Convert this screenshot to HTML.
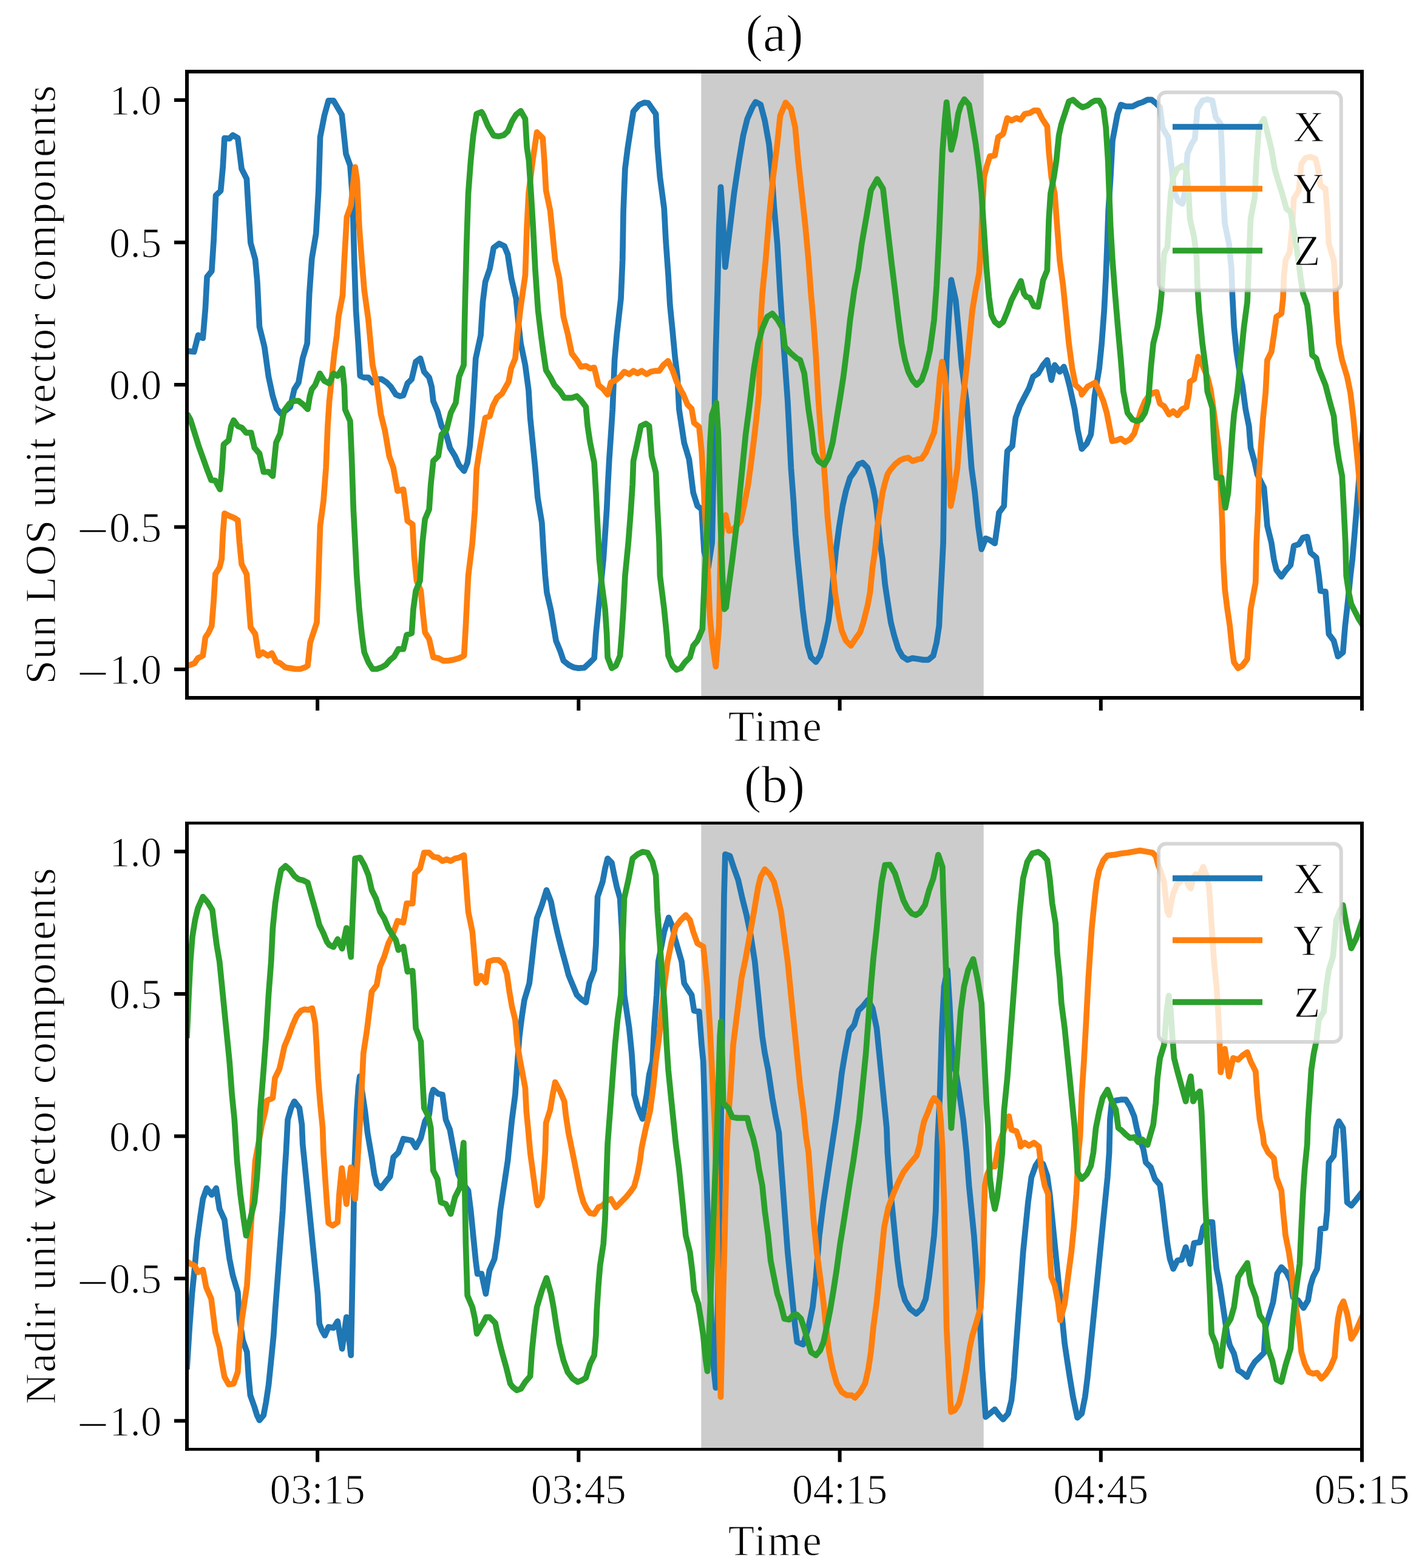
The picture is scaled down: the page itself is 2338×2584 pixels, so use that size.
<!DOCTYPE html>
<html lang="en"><head><meta charset="utf-8"><title>Sun LOS and Nadir unit vector components</title>
<style>html,body{margin:0;padding:0;background:#fff}svg{display:block}text{font-family:"Liberation Serif",serif;fill:#000;stroke:#fff;stroke-width:1.2px;stroke-linejoin:round}</style></head><body>
<svg width="2338" height="2584" viewBox="0 0 2338 2584">
<rect width="2338" height="2584" fill="#fff"/>
<defs>
<clipPath id="c0"><rect x="308.0" y="118.0" width="1936.0" height="1032.0"/></clipPath>
<clipPath id="c1"><rect x="308.0" y="1356.4" width="1936.0" height="1032.0"/></clipPath>
</defs>
<rect x="1155.3" y="118.0" width="465.4000000000001" height="1032.0" fill="#cccccc"/>
<polyline clip-path="url(#c0)" points="308.2,578.3 319.7,579.7 326.6,552.3 334.3,557.2 338.4,508.4 341.1,456.4 348.8,446.8 352.1,396.1 355.6,322 363.6,314.4 367.2,275.4 369.9,227.5 378.1,228.3 383.6,222.8 391.8,227.5 398.1,278.2 406.4,294.6 409.1,341.2 412.9,400.2 420.6,427.6 423.9,464.6 427.5,538.6 435.7,571.5 442.5,620.8 449.4,652.9 455.7,673.5 463.1,681.7 471.3,676.2 478.2,670.7 485,641.4 491.9,630.4 498.7,590.7 506.1,566 509.7,483.8 513.8,426.2 520.7,385.1 524.8,313.8 527.5,226.1 534.4,190.5 541.2,165.8 549.5,165.8 563.2,189.1 570,253.5 576.9,272.7 581,327.5 583.7,428.9 586.5,511.2 590.6,571.5 593.3,619.5 600.2,622.2 607,622.2 613.9,630.4 622.1,624.9 628.9,624.9 637.2,630.4 644,637.3 652.2,650.2 659.1,652.9 664.6,651.5 671.4,631.8 678.3,624.9 685.1,596.2 692.5,590.7 698.8,612.6 707.1,622.2 711.2,637.3 713.9,661.1 720.8,677.6 727.6,702.2 734.5,713.2 741.3,737.9 749.6,751.6 756.4,766.7 764.6,776.2 770.1,762.5 774.2,735.1 777,702.2 779.7,661.1 783.8,590.7 792.1,552.3 795.5,497.5 799.6,464.6 807,442.7 813.3,408.4 822.3,401.5 831.1,405.6 836.6,419.4 842.6,459.1 850.3,492 853.6,527.6 858,566 865.4,601.6 870.9,642.8 873.6,688.5 877.7,729.6 881.8,770.8 885.9,820.1 892.8,861.2 895.5,907.8 898.3,948.9 901,976.4 907.9,1006.5 912,1031.2 916.1,1055.9 922.9,1072.3 928.4,1088.8 936.7,1095.6 944.9,1099.7 953.1,1101.1 962.7,1100.3 970.9,1092.9 979.1,1084.6 981.9,1044.9 986,1003.8 990.1,962.7 994.2,921.5 997,880.4 999.7,839.3 1001.6,798.2 1003.8,757.1 1006.6,715.9 1009.3,674.8 1012.6,593.4 1016.2,552.3 1023,492 1025.7,428.9 1027.1,346.7 1029.9,278.2 1034,245.3 1039.5,209.6 1043.6,183.6 1053.2,172.6 1061.4,169.1 1068.2,169.9 1080.6,187.7 1083.3,242.5 1087.4,291.9 1094.3,344 1097,396.1 1101.1,453.6 1103.9,503 1108,544.1 1112.1,587.9 1116.2,620.8 1118.9,674.8 1127.2,729.6 1135.4,757.1 1142.2,811.9 1149.1,833.8 1156,839.3 1160.1,907.8 1166.9,935.2 1173.2,894.1 1176.5,729.6 1177.9,647.4 1179.3,579.7 1182,483.8 1184.7,374.1 1187.5,308.3 1190.2,346.7 1194.9,439.9 1201.2,387.8 1209.4,319.3 1217.6,264.5 1224.5,223.4 1231.3,195.9 1239.6,176.8 1245,168 1253.3,172.6 1260.1,198.7 1267,237.1 1271.1,278.2 1275.2,338.5 1280.7,401.5 1285.5,483.8 1291,566 1297.8,661.1 1300.6,715.9 1303.3,770.8 1307.4,825.6 1310.7,880.4 1314.3,921.5 1318.4,962.7 1322.5,1003.8 1326.6,1036.7 1330.7,1064.1 1336.2,1083.3 1344.4,1090.9 1351.3,1080.5 1358.1,1055.9 1365,1023 1369.1,990.1 1373.2,948.9 1377.3,907.8 1382.8,866.7 1388.3,833.8 1393.8,809.1 1400.6,787.2 1407.5,777.6 1414.3,765.3 1421.2,762.5 1429.4,770.8 1433.5,784.5 1439,806.4 1443.1,828.3 1445.8,853 1450,894.1 1454.1,921.5 1458.2,962.7 1462.3,990.1 1467.8,1025.7 1473.3,1047.6 1480.1,1069.6 1487,1081.9 1495.2,1087.4 1503.4,1084.6 1513,1086 1521.2,1087.4 1529.5,1087.4 1537.7,1080.5 1543.2,1058.6 1547.3,1031.2 1549.2,990.1 1551.4,948.9 1554.1,894.1 1554.9,839.3 1555.8,757.1 1556.9,688.5 1559.6,593.4 1563.2,524.9 1567.3,461.3 1574.7,494.7 1580.2,552.3 1584.3,601.6 1592.5,661.1 1596.6,715.9 1600.7,770.8 1606.2,811.9 1611.7,866.7 1617.2,905.1 1624,887.3 1630.9,890 1639.1,895.5 1643.2,866.7 1646,844.8 1654.2,833.8 1656.9,784.5 1659.7,743.4 1667.9,735.1 1670.6,710.5 1673.4,688.5 1680.2,669.3 1687.1,655.6 1695.3,640 1702.1,620.8 1710.4,615.4 1718.6,601.6 1725.4,593.4 1732.3,626.3 1737.8,601.6 1746,612.6 1752.9,604.4 1758.3,620.8 1762.5,637.3 1770.7,674.8 1775.5,707.7 1782.3,739.8 1790.6,731 1797.4,715.9 1800.7,685.8 1803.4,652.9 1811.1,607.1 1815.2,566 1819.3,511.2 1822.1,456.4 1824.3,401.5 1826.2,346.7 1829.8,291.9 1833,231.6 1837.2,209.6 1841.3,187.7 1846.8,172.6 1855,175.4 1865.9,175.4 1875.5,170.7 1882.4,168.5 1890.6,164.4 1897.5,164.4 1904.3,169.9 1911.2,176.8 1915.3,209.6 1918,215.1 1924.9,226.1 1930.4,275.4 1934.5,316.6 1941.3,331.6 1948.2,335.7 1952.3,316.6 1956.4,253.5 1963.3,237.1 1968.7,228.8 1972.9,179.5 1981.1,165.8 1989.3,163.6 1997.5,165.8 2003,193.2 2011.2,204.2 2014,264.5 2015.3,319.3 2018.1,368.6 2024.9,401.5 2029,442.7 2030.4,483.8 2033.2,538.6 2037.3,579.7 2041.4,607.1 2046.9,634.5 2052.3,674.8 2057.8,702.2 2060.6,737.9 2067.4,762.5 2071.5,781.7 2082.5,803.7 2085.2,833.8 2088,866.7 2094.8,894.1 2098.9,921.5 2103.1,939.4 2111.3,950.3 2118.1,940.7 2126.4,931.1 2131.8,899.6 2140.1,896.9 2146.9,885.9 2153.8,884.5 2159.3,910.6 2168.8,918.8 2173,948.9 2175.7,973.6 2183.9,975 2186.7,1009.3 2189.4,1044.9 2197.6,1055.9 2204.5,1081.9 2212.7,1075 2216.3,1031.2 2220.9,990.1 2225,948.9 2228.3,921.5 2231.6,883.2 2236,828.3 2240.1,777.6 2244,730.5 2247,694" fill="none" stroke="#1f77b4" stroke-width="9.7" stroke-linejoin="round" stroke-linecap="butt"/>
<polyline clip-path="url(#c0)" points="308.2,1097 313.7,1095.6 320.6,1092.9 326,1084.6 334.3,1080.5 338.4,1050.4 343.9,1042.1 348.8,1031.2 352.1,990.1 354.8,946.2 361.7,935.2 365.2,921.5 367.2,880.4 369.9,846.2 378.1,850.3 385,853 391.8,857.1 394.6,894.1 398.1,929.8 406.4,946.2 409.6,990.1 412.9,1033.9 420.6,1044.9 426.1,1080.5 432.9,1075 441.2,1080.5 448,1076.4 454.9,1090.1 461.7,1092.9 470,1099.7 478.2,1101.1 486.4,1102.5 494.6,1102.5 502.9,1099.7 507,1097 511.1,1058.6 516.6,1042.1 522,1025.7 524.8,948.9 527.5,866.7 533,825.6 537.1,770.8 539.9,702.2 542.6,661.1 550.8,582.5 554.9,552.3 557.7,522.1 564.5,486.5 567.3,428.9 571.4,357.7 578.2,338.5 582.3,300.1 585.1,275.4 588.4,297.4 591.9,374.1 596.1,428.9 600.2,478.3 607,527.6 613.9,601.6 620.7,631.8 627.6,683 634.4,710.5 641.3,751.6 648.1,770.8 655,809.1 664.6,806.4 671.4,858.5 679.7,864 682.4,916.1 686.5,957.2 693.4,973.6 696.1,1003.8 700.2,1042.1 707.1,1053.1 713.9,1083.3 722.1,1084.6 730.4,1088.8 738.6,1088.8 746.8,1087.4 756.4,1084.6 764.6,1080.5 767.4,1031.2 771.5,948.9 778.3,894.1 782.5,839.3 785.2,773.5 790.7,737.9 795.5,710.5 799.6,688.5 807,685.8 811.9,669.3 818.8,655.6 827,648.8 831.1,641.4 838,629.1 842.1,607.1 848.9,590.7 852.5,552.3 857.2,511.2 861.8,478.3 865.4,453.6 868.1,374.1 870.9,319.3 877.7,264.5 884.6,217.9 894.2,227.5 896.9,264.5 899.6,313.8 906.5,346.7 910.6,387.8 914.7,428.9 921.6,459.1 925.7,497.5 928.4,522.1 935.3,549.6 942.1,582.5 950.4,593.4 957.2,604.4 965.4,603 972.3,607.1 979.1,605.8 986,634.5 994.2,641.4 1001.1,650.2 1006.6,630.4 1014.8,626.3 1021.6,620.8 1028.5,612.6 1036.7,616.7 1043.6,611.2 1050.4,615.4 1057.3,611.2 1065.5,616.7 1072.3,612.6 1079.2,611.2 1086.1,611.2 1092.9,601.6 1100.6,594.8 1108,609.9 1114.8,629.1 1121.7,642.8 1125.8,650.2 1132.7,666.6 1139.5,673.5 1143.6,696.8 1151.8,703.6 1156,743.4 1158.7,790 1161.4,839.3 1165.5,921.5 1169.7,1017.5 1173.8,1058.6 1179.3,1098.3 1184.7,1031.2 1186.1,962.7 1187.5,894.1 1191.6,853 1195.7,848.9 1201.2,874.9 1206.7,873.6 1213.5,866.7 1220.4,858.5 1225.9,833.8 1232.7,798.2 1238.2,757.1 1242.3,724.2 1246.4,688.5 1250.5,647.4 1253.3,527.6 1256,483.8 1261.5,428.9 1268.3,346.7 1273.8,291.9 1280.7,237.1 1285.5,190.5 1294.5,169.1 1303.3,179.5 1310.2,209.6 1315.1,264.5 1321.1,319.3 1327.1,374.1 1332.1,428.9 1336.2,483.8 1340.3,530.4 1344.4,587.9 1348.5,661.1 1352.6,715.9 1356.8,757.1 1360.9,811.9 1363.6,853 1367.7,894.1 1371.8,935.2 1375.9,976.4 1381.4,1012 1386.9,1039.4 1393.8,1055.9 1402,1064.1 1410.2,1051.7 1417.1,1042.1 1422.5,1025.7 1429.4,998.3 1433.5,976.4 1437.6,935.2 1441.7,907.8 1445.8,866.7 1450,839.3 1454.1,811.9 1458.2,795.4 1462.3,781.7 1466.4,774.9 1474.6,765.3 1482.9,758.4 1489.7,755.7 1496.6,754.3 1503.4,759.8 1511.6,757.1 1518.5,755.7 1525.3,746.1 1532.2,729.6 1539,713.2 1542.6,688.5 1546.4,647.4 1548.6,620.8 1552.2,596.2 1556.9,620.8 1559.1,647.4 1562.3,729.6 1566.5,833.8 1571.9,806.4 1577.4,770.8 1581.5,715.9 1585.6,669.3 1593.9,593.4 1598,552.3 1602.1,511.2 1607.6,478.3 1613.1,450.9 1615.8,415.2 1618.5,346.7 1621.3,291.9 1625.4,275.4 1630.9,257.6 1639.1,256.2 1644.6,226.1 1652.8,220.6 1659.7,194.6 1666.5,198.7 1674.7,194.6 1681.6,197.3 1688.4,187.7 1696.7,186.3 1703.5,182.2 1710.4,182.2 1717.2,195.9 1725.4,208.3 1728.2,250.8 1732.3,291.9 1737.8,319.3 1741.9,374.1 1746,428.9 1751.5,470.1 1757,524.9 1761.1,566 1766.6,607.1 1772.1,634.5 1781,642.8 1782.3,650.2 1791.9,637.3 1804.3,630.4 1811.1,644.4 1818,661.1 1823.5,680.3 1828.9,707.7 1832.5,726.9 1839.9,725.5 1846.8,722.8 1853.6,728.3 1861.8,724.2 1868.7,714.6 1874.2,696.8 1879.6,677.6 1886.5,661.1 1893.4,651.5 1900.2,647.4 1905.7,646 1911.2,665.2 1918,669.3 1926.2,683 1933.1,677.6 1940,684.4 1946.8,674.8 1955,670.7 1959.1,647.4 1960.5,629.1 1967.4,624.9 1974.2,587.9 1981.1,601.6 1989.3,620.8 1994.8,642.8 1997.5,661.1 2003,702.2 2008.5,743.4 2011.2,798.2 2014,866.7 2015.3,921.5 2018.1,970.9 2022.2,1003.8 2026.3,1031.2 2030.4,1072.3 2033.2,1091.5 2040,1101.1 2046.9,1097 2055.1,1086 2057.8,1044.9 2060.6,1003.8 2064.7,981.8 2068.8,959.9 2070.2,894.1 2072.9,839.3 2074.3,784.5 2077,743.4 2081.1,688.5 2085.2,647.4 2088,593.4 2094.8,579.7 2098.9,552.3 2103.1,522.1 2111.3,516.7 2114,492 2115.4,456.4 2118.1,428.9 2125,415.2 2129.1,374.1 2131.8,327.5 2140.1,313.8 2144.2,270 2151,260.4 2159.3,258.4 2167.5,261.7 2171.6,278.2 2175.7,305.6 2183.9,311.1 2186.7,346.7 2189.4,401.5 2197.6,428.9 2200.4,470.1 2201.7,511.2 2205.9,566 2211.3,593.4 2219.6,620.8 2225,647.4 2230,689.4 2233.3,724.2 2236.8,759 2239.3,787.2 2241.8,814.4 2244,839.3 2247,872.2" fill="none" stroke="#ff7f0e" stroke-width="9.7" stroke-linejoin="round" stroke-linecap="butt"/>
<polyline clip-path="url(#c0)" points="308.2,681.7 313.7,691.3 320.6,713.2 327.4,735.1 334.3,754.3 341.1,773.5 348,791.3 354.8,792.1 362.5,806.4 365.8,773.5 368.5,732.4 376.8,725.5 380.9,702.2 385,692.6 391.8,702.2 398.7,705 405.5,713.2 413.8,713.2 419.2,737.9 427.5,747.5 434.3,777.6 442.5,777.6 449.4,784.5 452.1,757.1 454.9,729.6 461.7,714.6 465.8,688.5 468.6,676.2 476.8,665.2 485,660.6 491.9,660.6 500.1,667.1 507,674.3 510.5,652.9 513.8,641.4 519.3,634.5 527,615.4 534.4,627.7 542.6,631.8 549.5,615.4 556.3,619.5 564,607.1 567.3,637.3 568.6,674.8 576.9,694 579.6,757.1 582.3,839.3 585.1,894.1 587.8,948.9 591.9,1003.8 596.1,1044.9 600.2,1075 607,1091.5 613.9,1102.5 620.7,1102.5 628.9,1099.7 635.8,1095.6 642.7,1087.4 649.5,1081.9 656.4,1069.6 664.6,1069.6 670.1,1046.3 678.3,1043.5 681,1003.8 685.1,973.6 692,957.2 696.1,894.1 700.2,855.7 707.1,839.3 709.8,798.2 713.9,759.8 722.1,751.6 727.6,715.9 735.9,707.7 742.7,680.3 750.9,663.9 756.4,620.8 764.1,601.6 766,511.2 768.8,401.5 771.5,319.3 775.6,264.5 779.7,223.4 785.2,187.7 793.4,184.4 796.9,190.5 803.7,206.9 813.3,223.4 821.5,224.7 829.7,222.8 836.6,216.5 843.5,200.1 850.3,189.1 858,182.8 865.4,195.9 868.1,242.5 871.4,264.5 875,319.3 878.3,374.1 881.8,442.7 884.6,483.8 886.5,511.2 891.4,552.3 895.5,582.5 899.6,609.9 907.9,623.6 913.4,634.5 922.9,645.1 929.8,655.6 942.1,655.6 950.4,652.9 957.2,659.7 965.4,670.7 968.2,702.2 972.3,729.6 979.1,762.5 981.9,811.9 984.6,866.7 987.4,921.5 991.5,962.7 997,1003.8 999.7,1044.9 1001.1,1083.3 1007.9,1101.1 1014.8,1097 1021.6,1080.5 1024.4,1044.9 1027.1,1003.8 1029.9,948.9 1035.3,894.1 1039.5,839.3 1042.2,798.2 1043.6,759.8 1049,735.1 1055.9,702.2 1064.1,698.1 1069.6,702.2 1073.7,751.6 1080.6,779 1083.3,839.3 1086.1,894.1 1087.4,948.9 1094.3,1003.8 1098.4,1044.9 1101.1,1080.5 1108,1097 1114.8,1103.8 1121.7,1101.1 1128.5,1091.5 1136.8,1083.3 1142.2,1064.1 1149.1,1055.9 1157.3,1036.7 1159.2,990.1 1161.4,942.1 1163.6,899.6 1165.5,863.1 1168.3,784.5 1169.9,731.6 1172.9,684.1 1176.5,673.5 1180.1,663.9 1183.4,715.9 1185.3,784.5 1187.5,866.7 1190.2,948.9 1193.5,1003.8 1196.2,1001 1201.2,962.7 1206.7,921.5 1213.5,866.7 1219,811.9 1224.5,757.1 1228.6,715.9 1234.1,674.8 1242.3,607.1 1249.2,566 1256,541.3 1264.2,522.1 1272.5,516.7 1280.7,526.3 1289.6,541.3 1293.2,571.5 1301.9,581.1 1312.9,590.7 1318.4,593.4 1325.2,615.4 1332.1,674.8 1337.6,710.5 1341.7,746.1 1348.5,759.8 1358.1,766.1 1365,754.3 1371.8,729.6 1378.7,688.5 1384.2,655.6 1389.6,620.8 1396.5,566 1400.6,527.6 1407.5,478.3 1414.3,442.7 1419.8,401.5 1428,354.9 1434.9,313.8 1445.3,295.2 1454.9,311.1 1459.6,352.2 1463.7,387.8 1469.1,434.4 1474.6,478.3 1480.1,524.9 1485.6,566 1491.1,593.4 1496.6,612.6 1503.4,626.3 1510.3,634.5 1518.5,626.3 1525.3,607.1 1532.2,577 1539,527.6 1543.2,470.1 1547.3,387.8 1550,319.3 1552.8,250.8 1556.9,195.9 1559.6,168.5 1563.7,209.6 1567.3,246.7 1573.3,223.4 1578.8,187.7 1582.9,174 1588.9,163.6 1596.6,172.6 1600.7,195.9 1607.6,237.1 1613.1,278.2 1617.2,319.3 1619.9,360.4 1622.7,401.5 1625.4,442.7 1629.5,489.3 1633.6,519.4 1639.1,530.4 1646,535.9 1652.8,530.4 1659.7,513.9 1666.5,494.7 1674.7,478.3 1682.1,463.2 1687.1,483.8 1691.2,489.3 1696.7,490.6 1703.5,504.3 1710.4,505.7 1715.9,478.3 1718.6,461.8 1725.4,445.4 1726.8,401.5 1728.2,360.4 1730.9,319.3 1736.4,291.9 1740.5,264.5 1744.6,223.4 1748.8,204.2 1757,179.5 1761.1,167.2 1767.9,164.4 1776.9,172.6 1783.7,176.8 1791.9,174 1798.8,168.5 1804.3,165.8 1811.1,165.8 1818,178.1 1822.1,209.6 1825.6,264.5 1827.6,319.3 1829.8,374.1 1833,428.9 1837.2,483.8 1841.8,538.6 1846.8,593.4 1850.9,645.1 1857.7,680.3 1865.9,691.3 1872.8,694 1879.6,691.3 1886.5,680.3 1892,661.1 1896.1,607.1 1900.2,566 1907.1,538.6 1911.2,511.2 1913.9,483.8 1915.3,456.4 1918,418 1923.5,407 1926.2,360.4 1929,319.3 1933.1,291.9 1940,278.2 1948.2,273.2 1955,279.6 1958.6,319.3 1960.5,360.4 1967.4,390.6 1971.5,423.5 1972.9,470.1 1975.6,511.2 1981.1,566 1986.6,607.1 1989.3,645.1 1997.5,672.1 2000.3,729.6 2004.4,787.2 2012.6,787.2 2015.3,811.9 2018.9,836.6 2023.6,811.9 2027.7,757.1 2030.4,715.9 2033.2,683 2038.6,647.4 2044.1,593.4 2049.6,538.6 2055.1,497.5 2057.8,428.9 2060.6,360.4 2067.4,324.8 2070.2,264.5 2074.3,209.6 2082.5,195.9 2088,217.9 2094.8,245.3 2100.3,278.2 2105.8,297.4 2112.7,319.3 2119.5,344 2126.4,349.5 2131.8,379.6 2137.3,415.2 2142.8,456.4 2146.9,483.8 2153.8,503 2157.9,538.6 2162,585.2 2168.8,590.7 2173,607.1 2178.4,620.8 2183.9,634.5 2190.8,661.1 2197.6,685.8 2201.7,729.6 2205.9,757.1 2211.3,784.5 2214.1,839.3 2216.8,894.1 2218.2,948.9 2222.3,976.4 2226.4,995.5 2233.3,1009.3 2238.8,1020.2 2244,1028.4 2247,1033.9" fill="none" stroke="#2ca02c" stroke-width="9.7" stroke-linejoin="round" stroke-linecap="butt"/>
<rect x="1909.0" y="152.2" width="300.6999999999998" height="326.3" rx="12" ry="12" fill="#fff" fill-opacity="0.8" stroke="#ccc" stroke-opacity="0.8" stroke-width="6"/>
<line x1="1932" x2="2080" y1="209" y2="209" stroke="#1f77b4" stroke-width="9.6"/>
<text x="2130.5" y="233.1" font-size="71" text-anchor="start">X</text>
<line x1="1932" x2="2080" y1="311" y2="311" stroke="#ff7f0e" stroke-width="9.6"/>
<text x="2130.5" y="335.1" font-size="71" text-anchor="start">Y</text>
<line x1="1932" x2="2080" y1="413" y2="413" stroke="#2ca02c" stroke-width="9.6"/>
<text x="2132" y="437.1" font-size="71" text-anchor="start">Z</text>
<path d="M308.0 115 V1153 M2244.0 115 V1153" fill="none" stroke="#000" stroke-width="6"/>
<path d="M305.0 118.0 H2247.0 M305.0 1150.0 H2247.0" fill="none" stroke="#000" stroke-width="6"/>
<line x1="287" x2="308" y1="164.9" y2="164.9" stroke="#000" stroke-width="6"/>
<text x="266.3" y="189.2" font-size="69" text-anchor="end">1.0</text>
<line x1="287" x2="308" y1="399.5" y2="399.5" stroke="#000" stroke-width="6"/>
<text x="266.3" y="423.8" font-size="69" text-anchor="end">0.5</text>
<line x1="287" x2="308" y1="634" y2="634" stroke="#000" stroke-width="6"/>
<text x="266.3" y="658.3" font-size="69" text-anchor="end">0.0</text>
<line x1="287" x2="308" y1="868.5" y2="868.5" stroke="#000" stroke-width="6"/>
<text x="266.3" y="892.8" font-size="69" text-anchor="end"><tspan textLength="53" lengthAdjust="spacingAndGlyphs" dy="5.5" stroke-width="0.5">−</tspan><tspan dx="0.3" dy="-5.5">0.5</tspan></text>
<line x1="287" x2="308" y1="1103.1" y2="1103.1" stroke="#000" stroke-width="6"/>
<text x="266.3" y="1127.4" font-size="69" text-anchor="end"><tspan textLength="53" lengthAdjust="spacingAndGlyphs" dy="5.5" stroke-width="0.5">−</tspan><tspan dx="0.3" dy="-5.5">1.0</tspan></text>
<line x1="523.1" x2="523.1" y1="1150.0" y2="1171" stroke="#000" stroke-width="6"/>
<line x1="953.3" x2="953.3" y1="1150.0" y2="1171" stroke="#000" stroke-width="6"/>
<line x1="1383.6" x2="1383.6" y1="1150.0" y2="1171" stroke="#000" stroke-width="6"/>
<line x1="1813.8" x2="1813.8" y1="1150.0" y2="1171" stroke="#000" stroke-width="6"/>
<line x1="2244" x2="2244" y1="1150.0" y2="1171" stroke="#000" stroke-width="6"/>
<text x="1276.7" y="1221.4" font-size="71" text-anchor="middle" textLength="154" lengthAdjust="spacing">Time</text>
<text x="1276" y="83.7" font-size="86" text-anchor="middle">(a)</text>
<text transform="translate(90.6 634) rotate(-90)" font-size="71" text-anchor="middle" textLength="987" lengthAdjust="spacing">Sun LOS unit vector components</text>
<rect x="1155.3" y="1356.4" width="465.4000000000001" height="1032.0" fill="#cccccc"/>
<polyline clip-path="url(#c1)" points="307.9,2256.8 312.3,2186.9 316.4,2132.1 320.6,2091 324.7,2044.4 330.2,2003.3 334.3,1975.9 340.6,1958.1 348.8,1969 356.2,1958.1 361.7,1992.3 369.9,2010.1 374,2044.4 378.1,2074.6 383.6,2102 391.8,2129.4 394.6,2173.2 400.1,2208.9 406.9,2228.1 409.6,2269.2 412.4,2299.3 419.2,2318.5 423.4,2332.2 427.5,2340.5 434.3,2332.2 438.4,2310.3 442.5,2282.9 446.7,2241.8 450.8,2200.7 453.5,2159.5 457.6,2104.7 461.7,2049.9 465.8,1995.1 468.6,1940.2 471.3,1899.1 474.1,1845.1 479.6,1825.9 485,1815 493.3,1825.9 497.4,1853.4 498.7,1885.4 502.9,1926.5 507,1967.6 511.1,2008.8 515.2,2049.9 519.3,2091 523.4,2132.1 526.2,2181.5 530.3,2192.4 535.2,2200.7 541.2,2186.9 549.5,2188.3 556.3,2177.4 559.9,2200.7 563.7,2222.6 570.8,2170.5 578.2,2233.5 580.2,2132.1 582.3,2022.5 584,1926.5 587.8,1831.4 590.6,1790.3 592.8,1773.9 597.4,1804 601.5,1831.4 605.6,1867.1 612.5,1907.3 616.6,1934.8 620.7,1951.2 627.6,1958.1 635.8,1947.1 642.7,1938.9 648.1,1907.3 656.4,1899.1 664.6,1876.7 678.3,1879.4 685.1,1890.9 693.4,1875.3 700.2,1847.9 707.1,1836.9 711.2,1804 713.9,1795.8 722.1,1802.6 729,1804 734.5,1845.1 741.3,1861.6 748.2,1899.1 755,1934.8 763.3,1951.2 771.5,1962.2 775.6,1995.1 779.7,2036.2 783.8,2077.3 786.6,2099.2 793.4,2099.2 800.4,2132.1 806.4,2093.7 814.7,2074.6 820.2,2036.2 824.3,1995.1 828.4,1967.6 832.5,1940.2 836.6,1912.8 839.3,1885.4 843.5,1845.1 848.9,1804 851.7,1762.9 855.8,1708.1 859.9,1675.2 864,1647.8 872.2,1620.3 876.3,1584.7 880.5,1546.3 884.6,1513.4 892.8,1491.5 900.5,1466.8 907.9,1486 912,1508 918.8,1538.1 925.7,1565.5 932.5,1590.2 936.7,1606.6 943.5,1623.1 950.4,1639.5 957.2,1646.4 965.4,1651.9 970.9,1620.3 979.1,1598.4 981.9,1557.3 984.6,1477.8 992.9,1453.1 997,1431.2 1001.1,1414.8 1007.9,1421.6 1012,1442.2 1016.2,1461.4 1021.6,1480.5 1024.4,1529.9 1026.3,1584.7 1028.5,1639.5 1032.6,1666.9 1036.7,1694.4 1040.8,1735.5 1043.6,1776.6 1044.9,1804 1050.4,1823.2 1054.5,1834.2 1058.6,1843.8 1065.5,1804 1069.6,1771.1 1075.1,1749.2 1077.8,1694.4 1081.9,1639.5 1084.7,1584.7 1090.2,1557.3 1094.3,1535.4 1101.7,1512.1 1108,1527.1 1112.1,1546.3 1117.6,1565.5 1123.1,1584.7 1127.2,1620.3 1134,1631.3 1139.5,1639.5 1143.6,1665.6 1151.8,1666.9 1156,1721.8 1158.7,1749.2 1161.4,1831.4 1165,1967.6 1168.3,2077.3 1172.4,2186.9 1176,2255.5 1179.3,2287 1182.5,2159.5 1184.7,2022.5 1187.5,1885.4 1190.2,1666.9 1193,1475.1 1194.9,1407.9 1202.6,1410.6 1209.4,1431.2 1216.3,1450.4 1223.1,1480.5 1230,1508 1236.8,1540.9 1243.7,1584.7 1247.8,1625.8 1251.9,1666.9 1256,1708.1 1260.1,1735.5 1265.6,1762.9 1272.5,1809.5 1277.9,1839.6 1283.4,1867.1 1285.5,1899.1 1289.6,1953.9 1293.7,2008.8 1297.8,2063.6 1301.9,2104.7 1306,2145.8 1310.2,2186.9 1313.4,2211.6 1323.3,2215.7 1332.1,2186.9 1338.9,2154.1 1344.4,2104.7 1349.9,2036.2 1356.8,1981.4 1365,1926.5 1377.3,1845.1 1382.8,1804 1386.9,1768.4 1392.4,1735.5 1399.2,1699.8 1407.5,1688.9 1414.3,1665.6 1422.5,1657.4 1430.2,1647.8 1437.6,1661.5 1444.5,1694.4 1448.6,1735.5 1452.7,1776.6 1456.8,1817.7 1460.9,1858.8 1462.3,1899.1 1466.4,1953.9 1470.5,1995.1 1474.6,2036.2 1478.7,2077.3 1484.2,2118.4 1491.1,2143.1 1499.3,2156.8 1509.7,2165 1518.5,2156.8 1525.3,2140.3 1530.8,2104.7 1534.9,2071.8 1539,2036.2 1541.8,1995.1 1543.2,1940.2 1544.5,1885.4 1548.6,1804 1551.9,1694.4 1555.5,1625.8 1561,1598.4 1564.5,1653.2 1567.8,1721.8 1571.1,1757.4 1574.7,1765.6 1580.2,1798.5 1587,1845.1 1592.5,1899.1 1596.6,1953.9 1600.7,1995.1 1604.8,2036.2 1608.9,2091 1613.1,2145.8 1615.8,2200.7 1618.5,2255.5 1621.3,2296.6 1624,2335 1630.9,2329.5 1639.1,2322.6 1646,2332.2 1652.8,2339.1 1661,2329.5 1666.5,2307.6 1670.6,2269.2 1673.4,2228.1 1677.5,2173.2 1681.6,2118.4 1685.7,2063.6 1689.8,2022.5 1693.9,1981.4 1699.4,1940.2 1706.3,1921 1711.7,1912.8 1718.6,1918.3 1725.4,1937.5 1729.6,1967.6 1733.7,2008.8 1737.8,2049.9 1741.9,2091 1746,2132.1 1750.1,2173.2 1754.2,2214.4 1758.3,2241.8 1762.5,2269.2 1767.9,2302.1 1775.1,2336.3 1782.3,2329.5 1787.8,2302.1 1791.9,2269.2 1796,2228.1 1800.2,2186.9 1804.3,2145.8 1808.4,2104.7 1812.5,2063.6 1816.6,2022.5 1820.7,1981.4 1824.8,1940.2 1827.6,1899.1 1828.9,1845.1 1831.7,1817.7 1838.5,1813.6 1846.8,1812.2 1855,1812.2 1861.8,1823.2 1868.7,1839.6 1872.8,1858.8 1876.9,1875.3 1883.8,1893.6 1887.9,1915.6 1896.1,1923.8 1902.9,1943 1911.2,1952.6 1915.3,1981.4 1919.4,2017 1923.5,2049.9 1927.6,2074.6 1933.1,2091 1940,2077.3 1946.8,2075.9 1953.7,2055.4 1961.1,2082.8 1967.4,2048.5 1977,2047.1 1982.4,2022.5 1989.3,2014.2 1997.5,2014.2 2000.3,2049.9 2004.4,2091 2009.9,2118.4 2014,2145.8 2018.1,2173.2 2022.2,2200.7 2026.3,2217.1 2033.2,2230.8 2040,2258.2 2046.9,2262.3 2054.5,2269.2 2060.6,2255.5 2067.4,2244.5 2074.3,2237.7 2082.5,2229.4 2085.2,2186.9 2089.4,2173.2 2097.6,2145.8 2101.7,2118.4 2104.4,2099.2 2111.3,2088.3 2119.5,2096.5 2126.4,2110.2 2130.5,2137.6 2138.7,2143.1 2147.7,2155.4 2155.1,2143.1 2159.3,2118.4 2163.4,2104.7 2170.2,2091 2173,2063.6 2175.7,2025.2 2183.9,2023.8 2186.7,1995.1 2189.4,1915.6 2197.6,1904.6 2201.7,1858.8 2205.9,1847.9 2212.7,1858.8 2215.4,1899.1 2216.8,1926.5 2219.6,1981.4 2226.4,1986.8 2233.3,1978.6 2244,1964.9 2248.3,1959.4" fill="none" stroke="#1f77b4" stroke-width="9.7" stroke-linejoin="round" stroke-linecap="butt"/>
<polyline clip-path="url(#c1)" points="307.9,2078.7 313.7,2082.8 320.6,2085.5 326,2096.5 334.3,2092.4 339.7,2121.2 348,2140.3 352.1,2173.2 354.8,2195.2 361.7,2219.8 365.8,2247.3 369.9,2269.2 376.8,2281.5 385,2280.1 391.8,2261 394.6,2214.4 398.7,2173.2 402.8,2145.8 406.9,2118.4 409.6,2077.3 412.4,2036.2 415.1,1995.1 417.9,1953.9 420.6,1912.8 431.6,1853.4 437.1,1831.4 439.8,1813.6 449.4,1809.5 453,1776.6 460.4,1761.5 464.5,1743.7 468.6,1724.5 475.4,1708.1 482.3,1688.9 489.1,1673.8 496,1665.6 501.5,1663.4 508.3,1664.2 514.4,1661.5 519.3,1686.1 521.5,1721.8 524.2,1776.6 527.5,1817.7 531.6,1858.8 533,1899.1 535.7,1940.2 538.5,1981.4 541.2,2015.6 548.1,2019.7 556.3,2014.2 559,1967.6 563.2,1925.2 570.8,1984.1 578.2,1923.8 585.1,1975.9 589.2,1912.8 593.3,1845.1 596.1,1790.3 598.8,1735.5 604.3,1699.8 608.4,1666.9 612.5,1634.1 620.7,1623.1 626.2,1592.9 633.1,1576.5 639.9,1554.6 646.8,1540.9 655,1517.6 664.6,1520.3 670.1,1488.8 679.7,1488.8 683.8,1439.4 692,1431.2 698.8,1405.2 707.1,1405.2 713.9,1412 722.1,1413.4 729,1418.9 735.9,1416.1 742.7,1418.9 749.6,1414.8 756.4,1413.4 764.6,1409.3 767.4,1447.6 771.5,1502.5 778.3,1535.4 782.5,1584.7 785.2,1620.3 792.1,1608 800.4,1619 805.1,1584.7 813.3,1582 821.5,1582 829.7,1588.8 835.2,1605.3 839.3,1634.1 843.5,1658.7 848.9,1680.7 852.5,1721.8 857.2,1749.2 861.3,1771.1 865.4,1793 867.3,1831.4 870,1858.8 873.6,1899.1 879.1,1940.2 884.6,1981.4 885.9,1986.3 892.8,1973.1 895.5,1940.2 898.3,1899.1 899.6,1850.6 906.5,1828.7 910.6,1804 914.7,1783.4 922.9,1798.5 929.8,1815 932.5,1839.6 936.7,1867.1 944.9,1907.3 950.4,1934.8 955.8,1962.2 961.3,1981.4 966.8,1992.3 972.3,1999.2 979.1,2000.5 986,1989.6 992.9,1986.8 999.7,1978.6 1006.6,1975.9 1014.8,1989.6 1023,1981.4 1031.2,1973.1 1038.1,1964.9 1044.9,1955.3 1050.4,1934.8 1054.5,1912.8 1057.3,1890.9 1064.1,1858.8 1071,1831.4 1076.5,1790.3 1080.6,1749.2 1086.1,1708.1 1090.2,1666.9 1094.3,1625.8 1099.8,1584.7 1106.6,1551.8 1113.5,1527.1 1121.7,1516.2 1129.9,1508 1136.8,1516.2 1142.2,1535.4 1149.1,1554.6 1158.7,1560 1161.4,1584.7 1165.5,1625.8 1169.7,1694.4 1172.4,1749.2 1175.1,1804 1177.9,1858.8 1179.3,1912.8 1182,2049.9 1184.7,2186.9 1187.5,2302.1 1190.2,2186.9 1193,2077.3 1195.7,1967.6 1197.6,1885.4 1199.8,1845.1 1203.9,1790.3 1208,1721.8 1214.9,1666.9 1221.7,1612.1 1228.6,1579.2 1235.4,1540.9 1242.3,1502.5 1249.2,1461.4 1253.3,1444.9 1260.1,1432.6 1268.3,1440.8 1275.2,1453.1 1280.7,1475.1 1286.9,1502.5 1292.3,1543.6 1297.8,1584.7 1301.9,1625.8 1306,1666.9 1310.2,1708.1 1314.3,1749.2 1318.4,1790.3 1323.9,1831.4 1328,1872.5 1332.1,1899.1 1336.2,1953.9 1340.3,2008.8 1345.8,2063.6 1351.3,2104.7 1356.8,2145.8 1360.9,2186.9 1366.3,2228.1 1371.8,2255.5 1378.7,2280.1 1386.9,2293.9 1395.1,2299.3 1403.4,2299.3 1408.8,2303.4 1417.1,2293.9 1425.3,2280.1 1430.8,2255.5 1434.9,2228.1 1439,2186.9 1444.5,2145.8 1448.6,2104.7 1452.7,2063.6 1456.8,2022.5 1463.7,1989.6 1471.9,1967.6 1480.1,1948.5 1488.3,1932 1496.6,1921 1503.4,1912.8 1510.3,1904.6 1515.7,1885.4 1517.1,1872.5 1522.6,1847.9 1529.5,1831.4 1534.9,1816.3 1539,1809.5 1547.3,1819.1 1550,1845.1 1552.8,1892.7 1555.5,1981.4 1556.9,2049.9 1558.2,2118.4 1559.6,2186.9 1562.3,2241.8 1565.1,2296.6 1567,2326.8 1573.3,2324 1580.2,2313 1585.6,2291.1 1592.5,2255.5 1598,2219.8 1602.1,2200.7 1608.9,2178.7 1615.8,2154.1 1618.5,2104.7 1619.9,2049.9 1621.3,1995.1 1622.7,1953.9 1626.8,1934.8 1633.6,1921 1639.1,1922.4 1643.2,1899.1 1646,1885.4 1662.4,1839.6 1666.5,1861.6 1674.7,1864.3 1680.2,1879.4 1681.6,1889.5 1688.4,1883.2 1695.3,1888.2 1703.5,1883.2 1711.7,1889.5 1715.9,1926.5 1721.3,1953.9 1726.8,1967.6 1728.2,2022.5 1729.6,2063.6 1732.3,2104.7 1737.8,2118.4 1743.3,2145.8 1746.8,2176 1754.2,2148.6 1759.7,2104.7 1765.2,2063.6 1769.3,2022.5 1773.4,1967.6 1776.9,1899.1 1779.6,1872.5 1782.3,1804 1785.9,1749.2 1789.7,1680.7 1793.3,1612.1 1798.8,1529.9 1804.3,1475.1 1807,1453.1 1811.1,1433.9 1818,1417.5 1824.8,1409.8 1835.8,1408.7 1846.8,1406.5 1857.7,1405.2 1868.7,1403.2 1878.3,1401.6 1887.9,1403.2 1898.8,1405.2 1904.3,1410.6 1908.4,1425.7 1912.5,1436.7 1918,1453.1 1920.8,1480.5 1923.5,1502.5 1926.2,1508 1929,1491.5 1933.1,1472.3 1938.6,1458.6 1945.4,1451.8 1953.7,1446.3 1957.8,1458.6 1961.9,1464.1 1966,1447.6 1970.1,1440.8 1975.6,1443.5 1982.4,1428.5 1987.9,1442.2 1992,1461.4 1994.8,1502.5 1997.5,1543.6 2000.3,1584.7 2004.4,1625.8 2007.1,1666.9 2009,1702.6 2010.1,1735.5 2011.2,1767 2018.1,1728.6 2024.9,1773.9 2031.8,1743.7 2040,1746.4 2046.9,1739.6 2055.1,1734.1 2060.6,1749.2 2068.8,1765.6 2071.5,1804 2075.6,1845.1 2081.1,1872.5 2082.5,1885.4 2089.4,1899.1 2098.9,1908.7 2103.1,1940.2 2111.3,1962.2 2114,1995.1 2118.1,2036.2 2123.6,2063.6 2127.7,2091 2131.8,2132.1 2136,2159.5 2140.1,2186.9 2144.2,2228.1 2149.7,2247.3 2156.5,2261 2163.4,2263.7 2170.2,2262.3 2177.1,2271.9 2183.9,2265.1 2192.1,2252.7 2199,2236.3 2201.7,2200.7 2204.5,2173.2 2208.6,2154.1 2213.5,2144.5 2219.6,2165 2223.7,2186.9 2226.4,2206.1 2233.3,2195.2 2244,2170.5 2248.3,2160.9" fill="none" stroke="#ff7f0e" stroke-width="9.7" stroke-linejoin="round" stroke-linecap="butt"/>
<polyline clip-path="url(#c1)" points="307.9,1710.8 311,1639.5 313.7,1584.7 317,1543.6 321.4,1516.2 326,1497 334.3,1477.8 342.5,1487.4 349.9,1499.7 353.5,1529.9 357,1557.3 361.7,1584.7 365.8,1625.8 369.9,1666.9 374,1708.1 378.1,1749.2 382.2,1804 386.3,1845.1 390.5,1912.8 395.9,1967.6 401.4,2008.8 405.5,2036.2 412.4,2008.8 419.2,1981.4 423.4,1940.2 426.1,1899.1 428.8,1831.4 434.3,1762.9 438.4,1708.1 442.5,1639.5 446.7,1584.7 449.4,1529.9 453.5,1488.8 457.6,1461.4 463.1,1433.9 470.5,1427.1 478.2,1433.9 485,1443.5 491.9,1449 498.7,1450.4 507,1454.5 511.1,1469.6 516.6,1488.8 522,1508 526.2,1524.4 533,1538.1 538.5,1551.8 542.6,1557.3 549.5,1560.6 556.3,1547.7 563.7,1563.3 570.8,1529.3 578.2,1577 581.8,1491.5 585.1,1414.8 593.3,1413.4 600.2,1425.7 607,1442.2 612.5,1466.8 619.4,1480.5 626.2,1502.5 633.1,1513.4 639.9,1529.9 646.8,1540.9 652.2,1549.1 656.4,1565.5 664.6,1560 668.7,1584.7 671.4,1601.2 679.7,1599.8 682.4,1639.5 685.1,1694.4 693.4,1716.3 696.1,1776.6 698.8,1825.9 705.7,1839.6 709.8,1858.8 711.2,1885.4 713.9,1929.3 720.8,1943 726.3,1981.4 734.5,1984.1 742.7,2000.5 749.6,1973.1 757.8,1956.7 760.5,1912.8 763.8,1883.2 766,1967.6 767.4,2049.9 770.1,2134.9 778.3,2154.1 782.5,2173.2 785.7,2197.9 793.4,2184.2 795.5,2181.5 801,2170.5 806.4,2170.5 816,2180.1 821.5,2206.1 827,2228.1 833.9,2252.7 840.7,2280.1 844.8,2285.6 851.7,2291.1 858.5,2288.4 865.4,2277.4 873.6,2267.8 876.3,2228.1 880.5,2186.9 884.6,2154.1 892.8,2126.6 900.5,2106.1 907.9,2132.1 912,2154.1 916.1,2181.5 921.6,2214.4 928.4,2241.8 935.3,2261 943.5,2271.9 951.7,2277.4 958.6,2274.7 965.4,2270.6 972.3,2247.3 979.1,2233.5 981.9,2200.7 983.3,2159.5 986,2118.4 988.7,2085.5 994.2,2049.9 997,2008.8 998.3,1967.6 999.7,1926.5 1001.1,1885.4 1005.2,1831.4 1009.3,1776.6 1013.4,1721.8 1017.5,1680.7 1023,1639.5 1025.7,1557.3 1028.5,1480.5 1035.3,1450.4 1042.2,1414.8 1050.4,1407.9 1058.6,1403.8 1066.9,1405.2 1075.1,1420.2 1080.6,1442.2 1083.3,1502.5 1087.4,1557.3 1091.5,1612.1 1095.6,1666.9 1098.4,1721.8 1101.1,1762.9 1105.2,1804 1109.4,1845.1 1113.5,1885.4 1118.9,1926.5 1123.1,1967.6 1127.2,2008.8 1129.9,2036.2 1136.8,2063.6 1140.9,2096.5 1143.6,2126.6 1150.5,2148.6 1154.6,2173.2 1158.7,2200.7 1162.8,2241.8 1165.5,2259.6 1168.3,2200.7 1171,2132.1 1173.8,2049.9 1176.5,1981.4 1179.3,1912.8 1183.4,1804 1186.1,1708.1 1188,1683.4 1190.2,1749.2 1191.6,1817.7 1199.8,1825.9 1206.7,1841 1214.9,1842.4 1223.1,1842.4 1231.3,1842.4 1235.4,1858.8 1240.9,1875.3 1246.4,1899.1 1250.5,1926.5 1256,1953.9 1260.1,1995.1 1265.6,2036.2 1269.7,2077.3 1275.2,2104.7 1280.7,2132.1 1285.5,2145.8 1292.3,2173.2 1300.6,2174.6 1306,2167.8 1312.9,2166.4 1319.7,2173.2 1325.2,2189.7 1330.7,2208.9 1336.2,2228.1 1344.4,2233.5 1351.3,2225.3 1356.8,2211.6 1362.2,2186.9 1367.7,2159.5 1373.2,2126.6 1378.7,2091 1384.2,2049.9 1389.6,2017 1395.1,1981.4 1400.6,1945.7 1406.1,1912.8 1415.7,1845.1 1421.2,1790.3 1426.7,1735.5 1430.8,1680.7 1434.9,1625.8 1439,1579.2 1444.5,1529.9 1448.6,1488.8 1452.7,1453.1 1458.2,1425.7 1466.4,1425.2 1474.6,1439.4 1481.5,1461.4 1488.3,1483.3 1495.2,1497 1502,1505.2 1508.9,1508 1515.7,1503.8 1524,1491.5 1530.8,1466.8 1537.7,1447.6 1541.8,1428.5 1545.9,1408.7 1552.8,1428.5 1554.1,1475.1 1556.3,1529.9 1558.2,1584.7 1559.6,1639.5 1561.8,1694.4 1563.7,1749.2 1565.1,1804 1567.3,1858.8 1570.6,1817.7 1574.7,1776.6 1578.8,1721.8 1582.9,1666.9 1588.4,1625.8 1595.2,1598.4 1603.5,1580.6 1610.3,1612.1 1617.2,1653.2 1619.9,1708.1 1622.7,1762.9 1625.4,1817.7 1628.1,1858.8 1630.9,1940.2 1635,1973.1 1639.1,1992.3 1643.2,1973.1 1647.3,1940.2 1651.4,1899.1 1654.2,1831.4 1659.7,1776.6 1663.8,1721.8 1667.9,1666.9 1672,1612.1 1676.1,1557.3 1680.2,1502.5 1685.7,1447.6 1692.6,1420.2 1700.8,1406.5 1710.4,1403.8 1718.6,1409.3 1725.4,1417.5 1729.6,1447.6 1733.7,1488.8 1739.2,1521.7 1741.9,1571 1746,1612.1 1748.8,1653.2 1754.2,1694.4 1758.3,1735.5 1762.5,1776.6 1766.6,1817.7 1770.7,1858.8 1773.4,1899.1 1775.5,1932 1782.3,1943 1790.6,1934.8 1797.4,1921 1801.5,1899.1 1805.6,1858.8 1811.1,1831.4 1816.6,1809.5 1824.8,1795.8 1831.7,1815 1838.5,1828.7 1842.6,1858.8 1848.1,1862.9 1855,1869.8 1861.8,1875.3 1868.7,1873.9 1875.5,1882.1 1882.4,1878 1890.6,1886.8 1894.7,1872.5 1900.2,1853.4 1904.3,1817.7 1907.1,1776.6 1911.2,1743.7 1918,1721.8 1922.1,1666.9 1925.7,1640.9 1929,1666.9 1931.7,1708.1 1934.5,1743.7 1940,1765.6 1946.8,1790.3 1953.7,1815 1957.8,1790.3 1961.9,1773.9 1966,1815 1971.5,1804 1977,1798.5 1979.7,1831.4 1982.4,1892.7 1985.2,1967.6 1987.9,2022.5 1990.7,2077.3 1993.4,2132.1 1996.2,2197.9 2003,2214.4 2007.1,2236.3 2011.2,2251.4 2015.3,2214.4 2019.5,2186.9 2027.7,2173.2 2033.2,2154.1 2040,2104.7 2046.9,2093.7 2055.1,2081.4 2060.6,2115.7 2068.8,2137.6 2075.6,2167.8 2083.9,2180.1 2089.4,2222.6 2096.2,2241.8 2103.1,2273.3 2111.3,2277.4 2118.1,2250 2126.4,2222.6 2130.5,2173.2 2134.6,2132.1 2141.4,2082.8 2144.2,2022.5 2146.9,1967.6 2149.7,1926.5 2153.8,1885.4 2155.1,1845.1 2157.9,1804 2160.6,1762.9 2164.7,1735.5 2168.8,1716.3 2173,1680.7 2181.2,1666.9 2185.3,1625.8 2189.4,1598.4 2196.3,1576.5 2201.7,1516.2 2207.2,1502.5 2212.7,1491.5 2219.6,1529.9 2226.4,1562.8 2234.6,1546.3 2244,1518.9 2248.3,1506.6" fill="none" stroke="#2ca02c" stroke-width="9.7" stroke-linejoin="round" stroke-linecap="butt"/>
<rect x="1909.0" y="1390.6" width="300.6999999999998" height="326.3" rx="12" ry="12" fill="#fff" fill-opacity="0.8" stroke="#ccc" stroke-opacity="0.8" stroke-width="6"/>
<line x1="1932" x2="2080" y1="1447.4" y2="1447.4" stroke="#1f77b4" stroke-width="9.6"/>
<text x="2130.5" y="1471.5" font-size="71" text-anchor="start">X</text>
<line x1="1932" x2="2080" y1="1549.4" y2="1549.4" stroke="#ff7f0e" stroke-width="9.6"/>
<text x="2130.5" y="1573.5" font-size="71" text-anchor="start">Y</text>
<line x1="1932" x2="2080" y1="1651.4" y2="1651.4" stroke="#2ca02c" stroke-width="9.6"/>
<text x="2132" y="1675.5" font-size="71" text-anchor="start">Z</text>
<path d="M308.0 1354 V2390.8 M2244.0 1354 V2390.8" fill="none" stroke="#000" stroke-width="6"/>
<path d="M305.0 1356.4 H2247.0 M305.0 2388.4 H2247.0" fill="none" stroke="#000" stroke-width="4.8"/>
<line x1="287" x2="308" y1="1403.3" y2="1403.3" stroke="#000" stroke-width="6"/>
<text x="266.3" y="1427.6" font-size="69" text-anchor="end">1.0</text>
<line x1="287" x2="308" y1="1637.9" y2="1637.9" stroke="#000" stroke-width="6"/>
<text x="266.3" y="1662.2" font-size="69" text-anchor="end">0.5</text>
<line x1="287" x2="308" y1="1872.4" y2="1872.4" stroke="#000" stroke-width="6"/>
<text x="266.3" y="1896.7" font-size="69" text-anchor="end">0.0</text>
<line x1="287" x2="308" y1="2106.9" y2="2106.9" stroke="#000" stroke-width="6"/>
<text x="266.3" y="2131.2" font-size="69" text-anchor="end"><tspan textLength="53" lengthAdjust="spacingAndGlyphs" dy="5.5" stroke-width="0.5">−</tspan><tspan dx="0.3" dy="-5.5">0.5</tspan></text>
<line x1="287" x2="308" y1="2341.5" y2="2341.5" stroke="#000" stroke-width="6"/>
<text x="266.3" y="2365.8" font-size="69" text-anchor="end"><tspan textLength="53" lengthAdjust="spacingAndGlyphs" dy="5.5" stroke-width="0.5">−</tspan><tspan dx="0.3" dy="-5.5">1.0</tspan></text>
<line x1="523.1" x2="523.1" y1="2388.4" y2="2409.4" stroke="#000" stroke-width="6"/>
<text x="523.1" y="2478" font-size="69" text-anchor="middle">03:15</text>
<line x1="953.3" x2="953.3" y1="2388.4" y2="2409.4" stroke="#000" stroke-width="6"/>
<text x="953.3" y="2478" font-size="69" text-anchor="middle">03:45</text>
<line x1="1383.6" x2="1383.6" y1="2388.4" y2="2409.4" stroke="#000" stroke-width="6"/>
<text x="1383.6" y="2478" font-size="69" text-anchor="middle">04:15</text>
<line x1="1813.8" x2="1813.8" y1="2388.4" y2="2409.4" stroke="#000" stroke-width="6"/>
<text x="1813.8" y="2478" font-size="69" text-anchor="middle">04:45</text>
<line x1="2244" x2="2244" y1="2388.4" y2="2409.4" stroke="#000" stroke-width="6"/>
<text x="2244" y="2478" font-size="69" text-anchor="middle">05:15</text>
<text x="1276.7" y="2562.6" font-size="71" text-anchor="middle" textLength="154" lengthAdjust="spacing">Time</text>
<text x="1276" y="1322.1" font-size="86" text-anchor="middle">(b)</text>
<text transform="translate(90.6 1872.4) rotate(-90)" font-size="71" text-anchor="middle" textLength="884" lengthAdjust="spacing">Nadir unit vector components</text>
</svg></body></html>
